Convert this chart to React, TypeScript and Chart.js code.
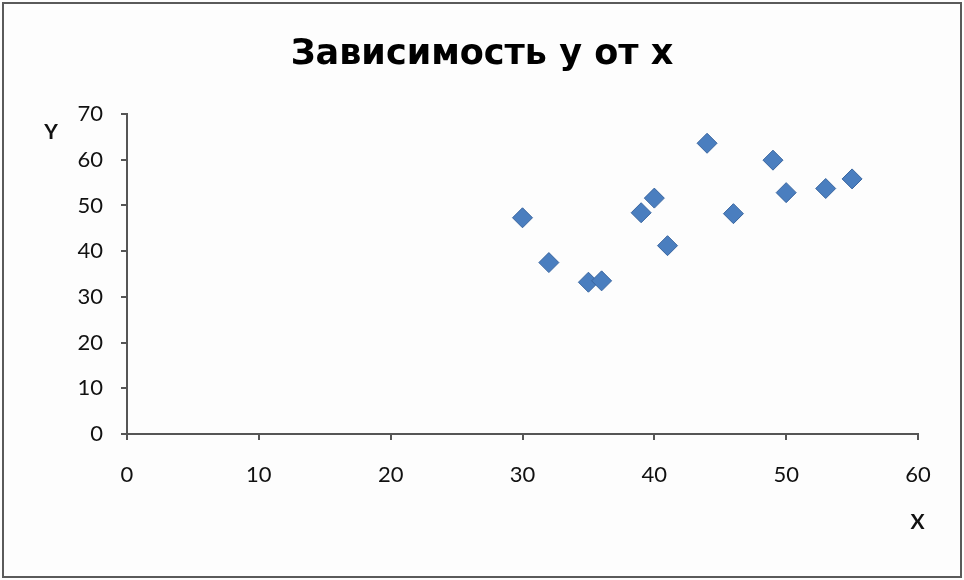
import { useEffect, useRef } from 'react';
import { Chart, registerables } from 'chart.js';

Chart.register(...registerables);

// значения с картинки
const xValues = [30, 32, 35, 36, 39, 40, 41, 44, 46, 49, 50, 53, 55];
const yValues = [47.3, 37.5, 33.2, 33.5, 48.4, 51.6, 41.2, 63.6, 48.2, 59.9, 52.8, 53.7, 55.8];

const TITLE = 'Зависимость у от х';
const X_TITLE = 'X';
const Y_TITLE = 'Y';

const FONT = 'Lato, "Open Sans", sans-serif';
const TITLE_FONT = '"DejaVu Sans", "Open Sans", sans-serif';
const AXIS_COLOR = '#555555';

// фон, рамка, заголовок и подписи осей
const framePlugin = {
  id: 'frame',
  beforeDraw(chart: Chart) {
    const { ctx, width, height } = chart;
    ctx.save();
    ctx.fillStyle = '#fdfdfd';
    ctx.fillRect(0, 0, width, height);
    ctx.strokeStyle = '#5a5a5a';
    ctx.lineWidth = 2;
    ctx.strokeRect(3, 3, width - 6, height - 6);
    ctx.restore();
  },
  afterDraw(chart: Chart) {
    const { ctx, chartArea, width } = chart;
    ctx.save();
    ctx.textAlign = 'center';
    ctx.textBaseline = 'middle';
    // заголовок по центру всего холста
    ctx.fillStyle = '#000';
    ctx.font = `bold 35px ${TITLE_FONT}`;
    ctx.fillText(TITLE, width / 2, chartArea.top - 59);
    ctx.fillStyle = '#111';
    ctx.font = `bold 21px ${FONT}`;
    ctx.fillText(Y_TITLE, chartArea.left - 76, chartArea.top + 18);
    ctx.fillText(X_TITLE, chartArea.right - 0.5, chartArea.bottom + 88);
    ctx.restore();
  },
};

export default function App() {
  const canvasRef = useRef<HTMLCanvasElement>(null);
  const chartRef = useRef<Chart | null>(null);

  useEffect(() => {
    document.body.style.margin = '0';
    if (!canvasRef.current) return;
    chartRef.current?.destroy();

    chartRef.current = new Chart(canvasRef.current, {
      type: 'scatter',
      data: {
        datasets: [
          {
            label: 'y',
            data: xValues.map((x, i) => ({ x, y: yValues[i] })),
            pointStyle: 'rectRot',
            pointRadius: 10,
            backgroundColor: '#4a7ebf',
            borderColor: '#3a66a0',
            borderWidth: 1,
          },
        ],
      },
      options: {
        responsive: false,
        animation: false,
        layout: { padding: { left: 0, right: 46, top: 114, bottom: 0 } },
        plugins: {
          legend: { display: false },
          tooltip: { enabled: false },
          title: { display: false },
        },
        scales: {
          x: {
            type: 'linear',
            min: 0,
            max: 60,
            ticks: { stepSize: 10, color: '#111', padding: 22, font: { family: FONT, size: 22 } },
            grid: { drawOnChartArea: false, drawTicks: true, tickLength: 6, color: AXIS_COLOR, lineWidth: 2 },
            border: { color: AXIS_COLOR, width: 2 },
            afterFit: (s) => {
              s.height = 146;
            },
          },
          y: {
            type: 'linear',
            min: 0,
            max: 70,
            ticks: { stepSize: 10, color: '#111', padding: 18, font: { family: FONT, size: 22 } },
            grid: { drawOnChartArea: false, drawTicks: true, tickLength: 6, color: AXIS_COLOR, lineWidth: 2 },
            border: { color: AXIS_COLOR, width: 2 },
            afterFit: (s) => {
              s.width = 127;
            },
          },
        },
      },
      plugins: [framePlugin],
    });

    return () => {
      chartRef.current?.destroy();
      chartRef.current = null;
    };
  }, []);

  return (
    <div style={{ width: 964, height: 580 }}>
      <canvas ref={canvasRef} width={964} height={580} />
    </div>
  );
}
